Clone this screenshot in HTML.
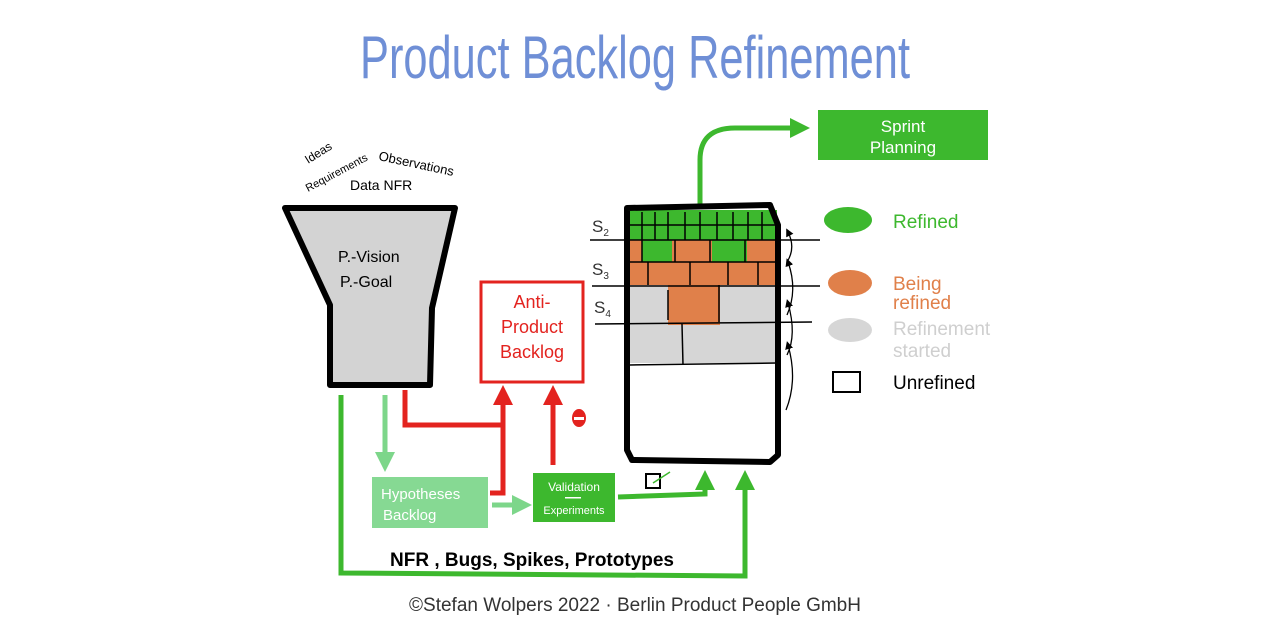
<!DOCTYPE html>
<html><head><meta charset="utf-8"><style>
html,body{margin:0;padding:0;background:#fff;}
svg{display:block;}
text{font-family:"Liberation Sans",sans-serif;}
</style></head><body>
<svg width="1270" height="635" viewBox="0 0 1270 635" xmlns="http://www.w3.org/2000/svg">
<defs>
<marker id="ag" markerWidth="4" markerHeight="4" refX="2" refY="2" orient="auto" markerUnits="strokeWidth"><path d="M0,0 L4,2 L0,4 z" fill="#3db82e"/></marker>
<marker id="alg" markerWidth="4" markerHeight="4" refX="2" refY="2" orient="auto" markerUnits="strokeWidth"><path d="M0,0 L4,2 L0,4 z" fill="#7dd68a"/></marker>
<marker id="ar" markerWidth="4" markerHeight="4" refX="2" refY="2" orient="auto" markerUnits="strokeWidth"><path d="M0,0 L4,2 L0,4 z" fill="#e3231f"/></marker>
<marker id="ak" markerWidth="8" markerHeight="8" refX="4" refY="4" orient="auto" markerUnits="userSpaceOnUse"><path d="M0,0 L8,4 L0,8 z" fill="#000"/></marker>
</defs>
<text x="635" y="78" font-size="60" fill="#6f8fd6" text-anchor="middle" textLength="550" lengthAdjust="spacingAndGlyphs">Product Backlog Refinement</text>

<text x="308" y="164" font-size="12" transform="rotate(-32 308 164)">Ideas</text>
<text x="308" y="192" font-size="11" transform="rotate(-28 308 192)">Requirements</text>
<text x="378" y="160" font-size="13" transform="rotate(12 378 160)">Observations</text>
<text x="350" y="190" font-size="14">Data NFR</text>

<path d="M285,208 L455,208 L432,308 L430,385 L330,385 L330,305 Z" fill="#d3d3d3" stroke="#000" stroke-width="6" stroke-linejoin="round"/>
<text x="338" y="262" font-size="16">P.-Vision</text>
<text x="340" y="287" font-size="16">P.-Goal</text>

<rect x="481" y="282" width="102" height="100" fill="#fff" stroke="#e3231f" stroke-width="3"/>
<text x="532" y="308" font-size="18" fill="#e3231f" text-anchor="middle">Anti-</text>
<text x="532" y="333" font-size="18" fill="#e3231f" text-anchor="middle">Product</text>
<text x="532" y="358" font-size="18" fill="#e3231f" text-anchor="middle">Backlog</text>

<path d="M405,390 L405,425 L503,425" fill="none" stroke="#e3231f" stroke-width="5"/>
<path d="M490,493 L503,493 L503,395" fill="none" stroke="#e3231f" stroke-width="5" marker-end="url(#ar)"/>
<path d="M553,465 L553,395" fill="none" stroke="#e3231f" stroke-width="5" marker-end="url(#ar)"/>
<ellipse cx="579" cy="418" rx="7" ry="9" fill="#e3231f"/>
<rect x="574" y="417" width="10" height="3" fill="#fff"/>

<path d="M341,395 L341,573 L745,576 L745,480" fill="none" stroke="#3db82e" stroke-width="5" marker-end="url(#ag)"/>
<path d="M385,395 L385,462" fill="none" stroke="#7dd68a" stroke-width="5" marker-end="url(#alg)"/>
<path d="M492,505 L522,505" fill="none" stroke="#7dd68a" stroke-width="5" marker-end="url(#alg)"/>
<path d="M618,497 L705,494 L705,480" fill="none" stroke="#3db82e" stroke-width="5" marker-end="url(#ag)"/>
<path d="M700,205 L700,160 Q700,128 735,128 L800,128" fill="none" stroke="#3db82e" stroke-width="5" marker-end="url(#ag)"/>
<rect x="646" y="474" width="14" height="14" fill="none" stroke="#000" stroke-width="2"/>
<path d="M653,483 L670,472" stroke="#3db82e" stroke-width="1.5"/>

<rect x="372" y="477" width="116" height="51" fill="#86d993"/>
<text x="381" y="499" font-size="15" fill="#fff">Hypotheses</text>
<text x="383" y="520" font-size="15" fill="#fff">Backlog</text>
<rect x="533" y="473" width="82" height="49" fill="#3db82e"/>
<text x="574" y="491" font-size="12" fill="#fff" text-anchor="middle">Validation</text>
<rect x="565" y="497" width="16" height="1.5" fill="#fff"/>
<text x="574" y="514" font-size="11" fill="#fff" text-anchor="middle">Experiments</text>

<text x="390" y="566" font-size="19" font-weight="bold">NFR , Bugs, Spikes, Prototypes</text>

<rect x="627" y="210" width="150" height="30" fill="#3db82e"/>
<rect x="627" y="240" width="150" height="45" fill="#e0804a"/>
<rect x="642" y="240" width="30" height="22" fill="#3db82e"/>
<rect x="712" y="240" width="35" height="22" fill="#3db82e"/>
<rect x="627" y="285" width="150" height="78" fill="#d6d6d6"/>
<rect x="668" y="285" width="52" height="40" fill="#e0804a"/>
<g stroke="#000" stroke-width="1.5">
<line x1="627" y1="225" x2="777" y2="225"/>
<line x1="642" y1="212" x2="642" y2="240"/><line x1="655" y1="212" x2="655" y2="240"/><line x1="668" y1="212" x2="668" y2="240"/><line x1="685" y1="212" x2="685" y2="240"/><line x1="700" y1="212" x2="700" y2="240"/><line x1="717" y1="212" x2="717" y2="240"/><line x1="733" y1="212" x2="733" y2="240"/><line x1="748" y1="212" x2="748" y2="240"/><line x1="762" y1="212" x2="762" y2="240"/>
<line x1="590" y1="240" x2="820" y2="240"/>
<line x1="627" y1="262" x2="777" y2="262"/>
<line x1="642" y1="240" x2="642" y2="262"/><line x1="675" y1="240" x2="675" y2="262"/><line x1="710" y1="240" x2="710" y2="262"/><line x1="745" y1="240" x2="745" y2="262"/>
<line x1="648" y1="262" x2="648" y2="285"/><line x1="690" y1="262" x2="690" y2="285"/><line x1="728" y1="262" x2="728" y2="285"/><line x1="758" y1="262" x2="758" y2="285"/>
<line x1="592" y1="286" x2="820" y2="286"/>
<line x1="668" y1="290" x2="668" y2="320"/><line x1="719" y1="285" x2="719" y2="322"/>
<line x1="595" y1="324" x2="812" y2="322"/>
<line x1="682" y1="324" x2="683" y2="365"/>
<line x1="630" y1="365" x2="777" y2="363"/>
</g>
<path d="M627,208 L770,205 L778,225 L778,455 L770,462 L632,460 L627,450 Z" fill="none" stroke="#000" stroke-width="6" stroke-linejoin="round"/>
<text x="592" y="232" font-size="17" fill="#333">S<tspan font-size="10" dy="4">2</tspan></text>
<text x="592" y="275" font-size="17" fill="#333">S<tspan font-size="10" dy="4">3</tspan></text>
<text x="594" y="313" font-size="17" fill="#333">S<tspan font-size="10" dy="4">4</tspan></text>
<g fill="none" stroke="#000" stroke-width="1.3">
<path d="M787,262 Q796,248 788,232" marker-end="url(#ak)"/>
<path d="M787,315 Q798,290 788,262" marker-end="url(#ak)"/>
<path d="M787,355 Q797,335 788,303" marker-end="url(#ak)"/>
<path d="M786,410 Q798,380 788,345" marker-end="url(#ak)"/>
</g>

<rect x="818" y="110" width="170" height="50" fill="#3db82e"/>
<text x="903" y="132" font-size="17" fill="#fff" text-anchor="middle">Sprint</text>
<text x="903" y="153" font-size="17" fill="#fff" text-anchor="middle">Planning</text>

<ellipse cx="848" cy="220" rx="24" ry="13" fill="#3db82e"/>
<text x="893" y="228" font-size="19" fill="#3db82e">Refined</text>
<ellipse cx="850" cy="283" rx="22" ry="13" fill="#e0804a"/>
<text x="893" y="290" font-size="19" fill="#e0804a">Being</text>
<text x="893" y="309" font-size="19" fill="#e0804a">refined</text>
<ellipse cx="850" cy="330" rx="22" ry="12" fill="#d6d6d6"/>
<text x="893" y="335" font-size="19" fill="#cfcfcf">Refinement</text>
<text x="893" y="357" font-size="19" fill="#cfcfcf">started</text>
<rect x="833" y="372" width="27" height="20" fill="none" stroke="#000" stroke-width="2"/>
<text x="893" y="389" font-size="19">Unrefined</text>

<text x="635" y="611" font-size="19" fill="#333" text-anchor="middle">©Stefan Wolpers 2022 · Berlin Product People GmbH</text>
</svg>
</body></html>
